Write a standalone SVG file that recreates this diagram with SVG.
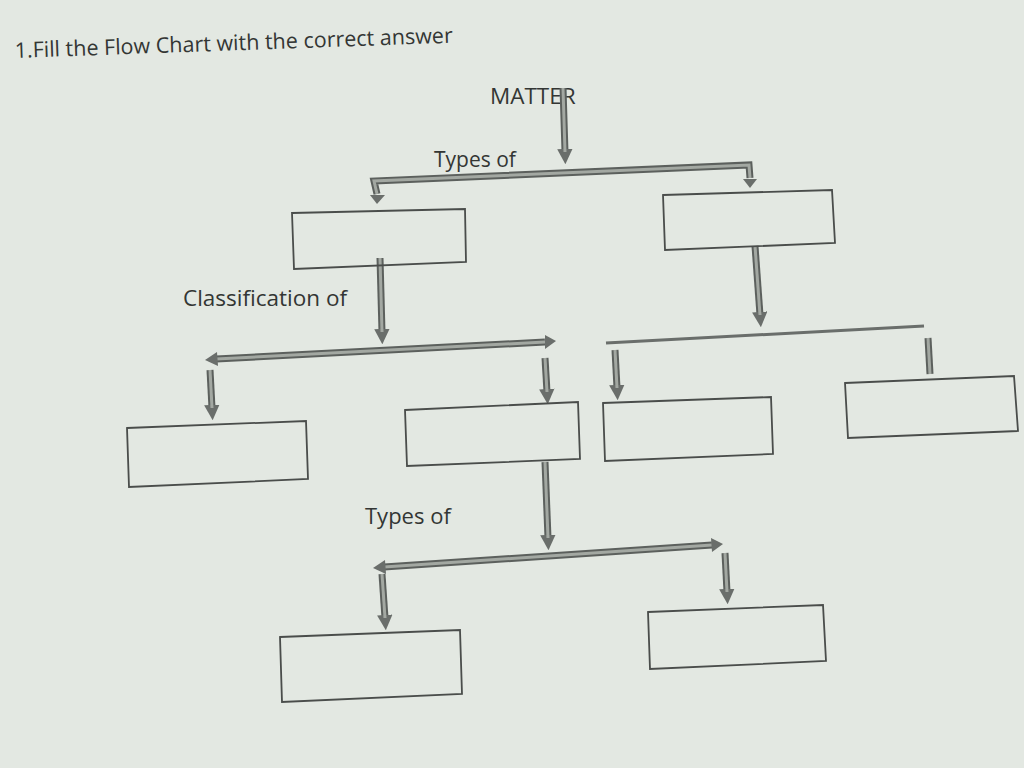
<svg xmlns="http://www.w3.org/2000/svg" width="1024" height="768" viewBox="0 0 1024 768">
<defs>
<style>
.txt{font-family:"Open Sans","Liberation Sans",sans-serif;fill:#333634;}
.box{fill:none;stroke:#4a4d4b;stroke-width:1.8;}
.ao{fill:none;stroke:#5c605d;stroke-width:7;}
.ai{fill:none;stroke:#a3a8a2;stroke-width:3;}
.thin{fill:none;stroke:#6a6e6b;stroke-width:3;}
</style>
<marker id="ah" viewBox="0 0 10 10" refX="2" refY="5" markerWidth="2.2" markerHeight="2.2" orient="auto" markerUnits="strokeWidth">
<path d="M0,0 L10,5 L0,10 Z" fill="#6a6e6b"/>
</marker>
</defs>
<rect width="1024" height="768" fill="#e3e8e2"/>
<text class="txt" x="15" y="58" font-size="21.5" transform="rotate(-2 15 58)">1.Fill the Flow Chart with the correct answer</text>
<g id="matter"><text class="txt" x="490" y="104" font-size="22.5">MATTER</text></g>
<g id="label-types1"><text class="txt" x="434" y="167" font-size="21">Types of</text></g>
<g id="label-class"><text class="txt" x="183" y="306" font-size="22.5">Classification of</text></g>
<g id="label-types2"><text class="txt" x="365" y="524" font-size="22">Types of</text></g>
<g id="connectors">
<path class="ao" d="M563,88 L565,152" marker-end="url(#ah)"/>
<path class="ai" d="M563,88 L565,152"/>
<path class="ao" d="M377,194 L374,181 L749,165 L750,178"/>
<path class="ai" d="M377,194 L374,181 L749,165 L750,178"/>
<path d="M370,195 L385,195 L377,204 Z" fill="#6a6e6b"/>
<path d="M743,179 L757,179 L750,188 Z" fill="#6a6e6b"/>
<path class="ao" d="M380,258 L382,332" marker-end="url(#ah)"/>
<path class="ai" d="M380,258 L382,332"/>
<path class="ao" d="M216,359 L545,342"/>
<path class="ai" d="M216,359 L545,342"/>
<path d="M217,352 L205,360 L218,366 Z" fill="#6a6e6b"/>
<path d="M545,335 L556,341 L545,349 Z" fill="#6a6e6b"/>
<path class="ao" d="M210,370 L212,408" marker-end="url(#ah)"/>
<path class="ai" d="M210,370 L212,408"/>
<path class="ao" d="M545,358 L547,392" marker-end="url(#ah)"/>
<path class="ai" d="M545,358 L547,392"/>
<path class="ao" d="M755,246 L760,315" marker-end="url(#ah)"/>
<path class="ai" d="M755,246 L760,315"/>
<path class="thin" d="M606,343 L924,326"/>
<path class="ao" d="M615,350 L617,388" marker-end="url(#ah)"/>
<path class="ai" d="M615,350 L617,388"/>
<path class="ao" d="M928,338 L930,374"/>
<path class="ai" d="M928,338 L930,374"/>
<path class="ao" d="M545,462 L548,538" marker-end="url(#ah)"/>
<path class="ai" d="M545,462 L548,538"/>
<path class="ao" d="M384,567 L712,545"/>
<path class="ai" d="M384,567 L712,545"/>
<path d="M385,560 L373,568 L386,574 Z" fill="#6a6e6b"/>
<path d="M711,538 L723,544 L712,552 Z" fill="#6a6e6b"/>
<path class="ao" d="M382,574 L385,618" marker-end="url(#ah)"/>
<path class="ai" d="M382,574 L385,618"/>
<path class="ao" d="M725,553 L727,592" marker-end="url(#ah)"/>
<path class="ai" d="M725,553 L727,592"/>
</g>
<g id="box1"><polygon class="box" points="292,213 465,209 466,262 294,269"/></g>
<g id="box2"><polygon class="box" points="663,195 832,190 835,243 665,250"/></g>
<g id="box3"><polygon class="box" points="127,428 306,421 308,479 129,487"/></g>
<g id="box4"><polygon class="box" points="405,410 578,402 580,459 407,466"/></g>
<g id="box5"><polygon class="box" points="603,403 771,397 773,454 605,461"/></g>
<g id="box6"><polygon class="box" points="845,383 1014,376 1018,431 848,438"/></g>
<g id="box7"><polygon class="box" points="280,637 460,630 462,694 282,702"/></g>
<g id="box8"><polygon class="box" points="648,612 823,605 826,661 650,669"/></g>
</svg>
